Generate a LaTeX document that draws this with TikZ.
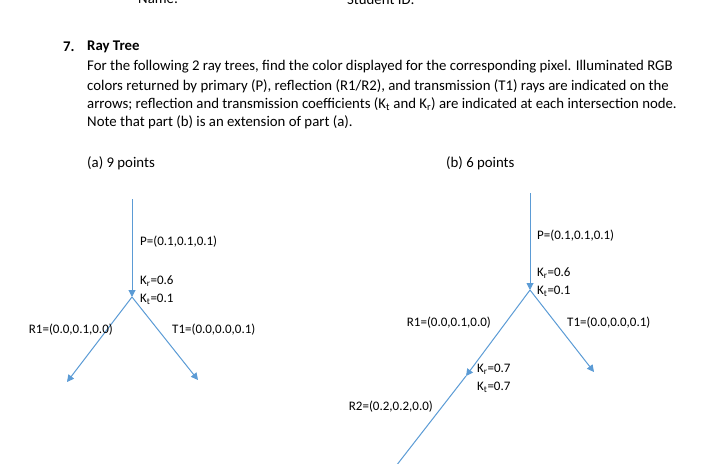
\documentclass[tikz,border=0pt]{standalone}
\usepackage{fontspec}
\setmainfont{Carlito}
\usetikzlibrary{arrows.meta}
\definecolor{ray}{RGB}{91,155,213}
\begin{document}
\begin{tikzpicture}[x=1pt,y=-1pt,
  rayline/.style={draw=ray,line width=1pt},
  rayarrow/.style={rayline,-{Triangle[length=7pt,width=7pt]}},
  lbl/.style={font=\fontsize{13}{14}\selectfont,inner sep=0pt},
  txt/.style={font=\fontsize{14.8}{16}\selectfont,inner sep=0pt,anchor=west}]
\useasboundingbox (0,0) rectangle (711,463);
\node[txt] (name) at (138,-1) {Name:};
\node[txt] (sid) at (347,-1) {Student ID:};
\node[txt,font=\fontsize{14.8}{16}\bfseries] (num) at (63,47) {7.};
\node[txt,font=\fontsize{14.8}{16}\bfseries] (title) at (87,47) {Ray Tree};
\node[txt] (l1) at (87,67) {For the following 2 ray trees, find the color displayed for the corresponding pixel. Illuminated RGB};
\node[txt] (l2) at (87,86) {colors returned by primary (P), reflection (R1/R2), and transmission (T1) rays are indicated on the};
\node[txt] (l3) at (87,104) {arrows; reflection and transmission coefficients (K\textsubscript{t} and K\textsubscript{r}) are indicated at each intersection node.};
\node[txt] (l4) at (87,122) {Note that part (b) is an extension of part (a).};
\node[txt] (pa) at (87,163) {(a) 9 points};
\node[txt] (pb) at (446,163) {(b) 6 points};
% tree a
\coordinate (a0) at (132,199);
\coordinate (a1) at (132,297);
\coordinate (aL) at (67,382);
\coordinate (aR) at (198,380);
\draw[rayarrow] (a0) -- (a1);
\draw[rayarrow] (a1) -- (aL);
\draw[rayarrow] (a1) -- (aR);
\node[lbl,anchor=west] (aP) at (140,242) {P=(0.1,0.1,0.1)};
\node[lbl,anchor=west] (aKr) at (140,281) {K\textsubscript{r}=0.6};
\node[lbl,anchor=west] (aKt) at (140,299) {K\textsubscript{t}=0.1};
\node[lbl,anchor=east] (aR1) at (113,330) {R1=(0.0,0.1,0.0)};
\node[lbl,anchor=west] (aT1) at (172,330) {T1=(0.0,0.0,0.1)};
% tree b
\coordinate (b0) at (530,193);
\coordinate (b1) at (530,290);
\coordinate (bR) at (594,372);
\coordinate (b2) at (466,376);
\coordinate (bE) at (396,466);
\draw[rayarrow] (b0) -- (b1);
\draw[rayarrow] (b1) -- (bR);
\draw[rayarrow] (b1) -- (b2);
\draw[rayline] (b2) -- (bE);
\node[lbl,anchor=west] (bP) at (537,236) {P=(0.1,0.1,0.1)};
\node[lbl,anchor=west] (bKr) at (537,273) {K\textsubscript{r}=0.6};
\node[lbl,anchor=west] (bKt) at (537,291) {K\textsubscript{t}=0.1};
\node[lbl,anchor=east] (bR1) at (491,323) {R1=(0.0,0.1,0.0)};
\node[lbl,anchor=west] (bT1) at (567,323) {T1=(0.0,0.0,0.1)};
\node[lbl,anchor=west] (bKr2) at (477,369) {K\textsubscript{r}=0.7};
\node[lbl,anchor=west] (bKt2) at (477,387) {K\textsubscript{t}=0.7};
\node[lbl,anchor=east] (bR2) at (433,407) {R2=(0.2,0.2,0.0)};
\end{tikzpicture}
\end{document}
